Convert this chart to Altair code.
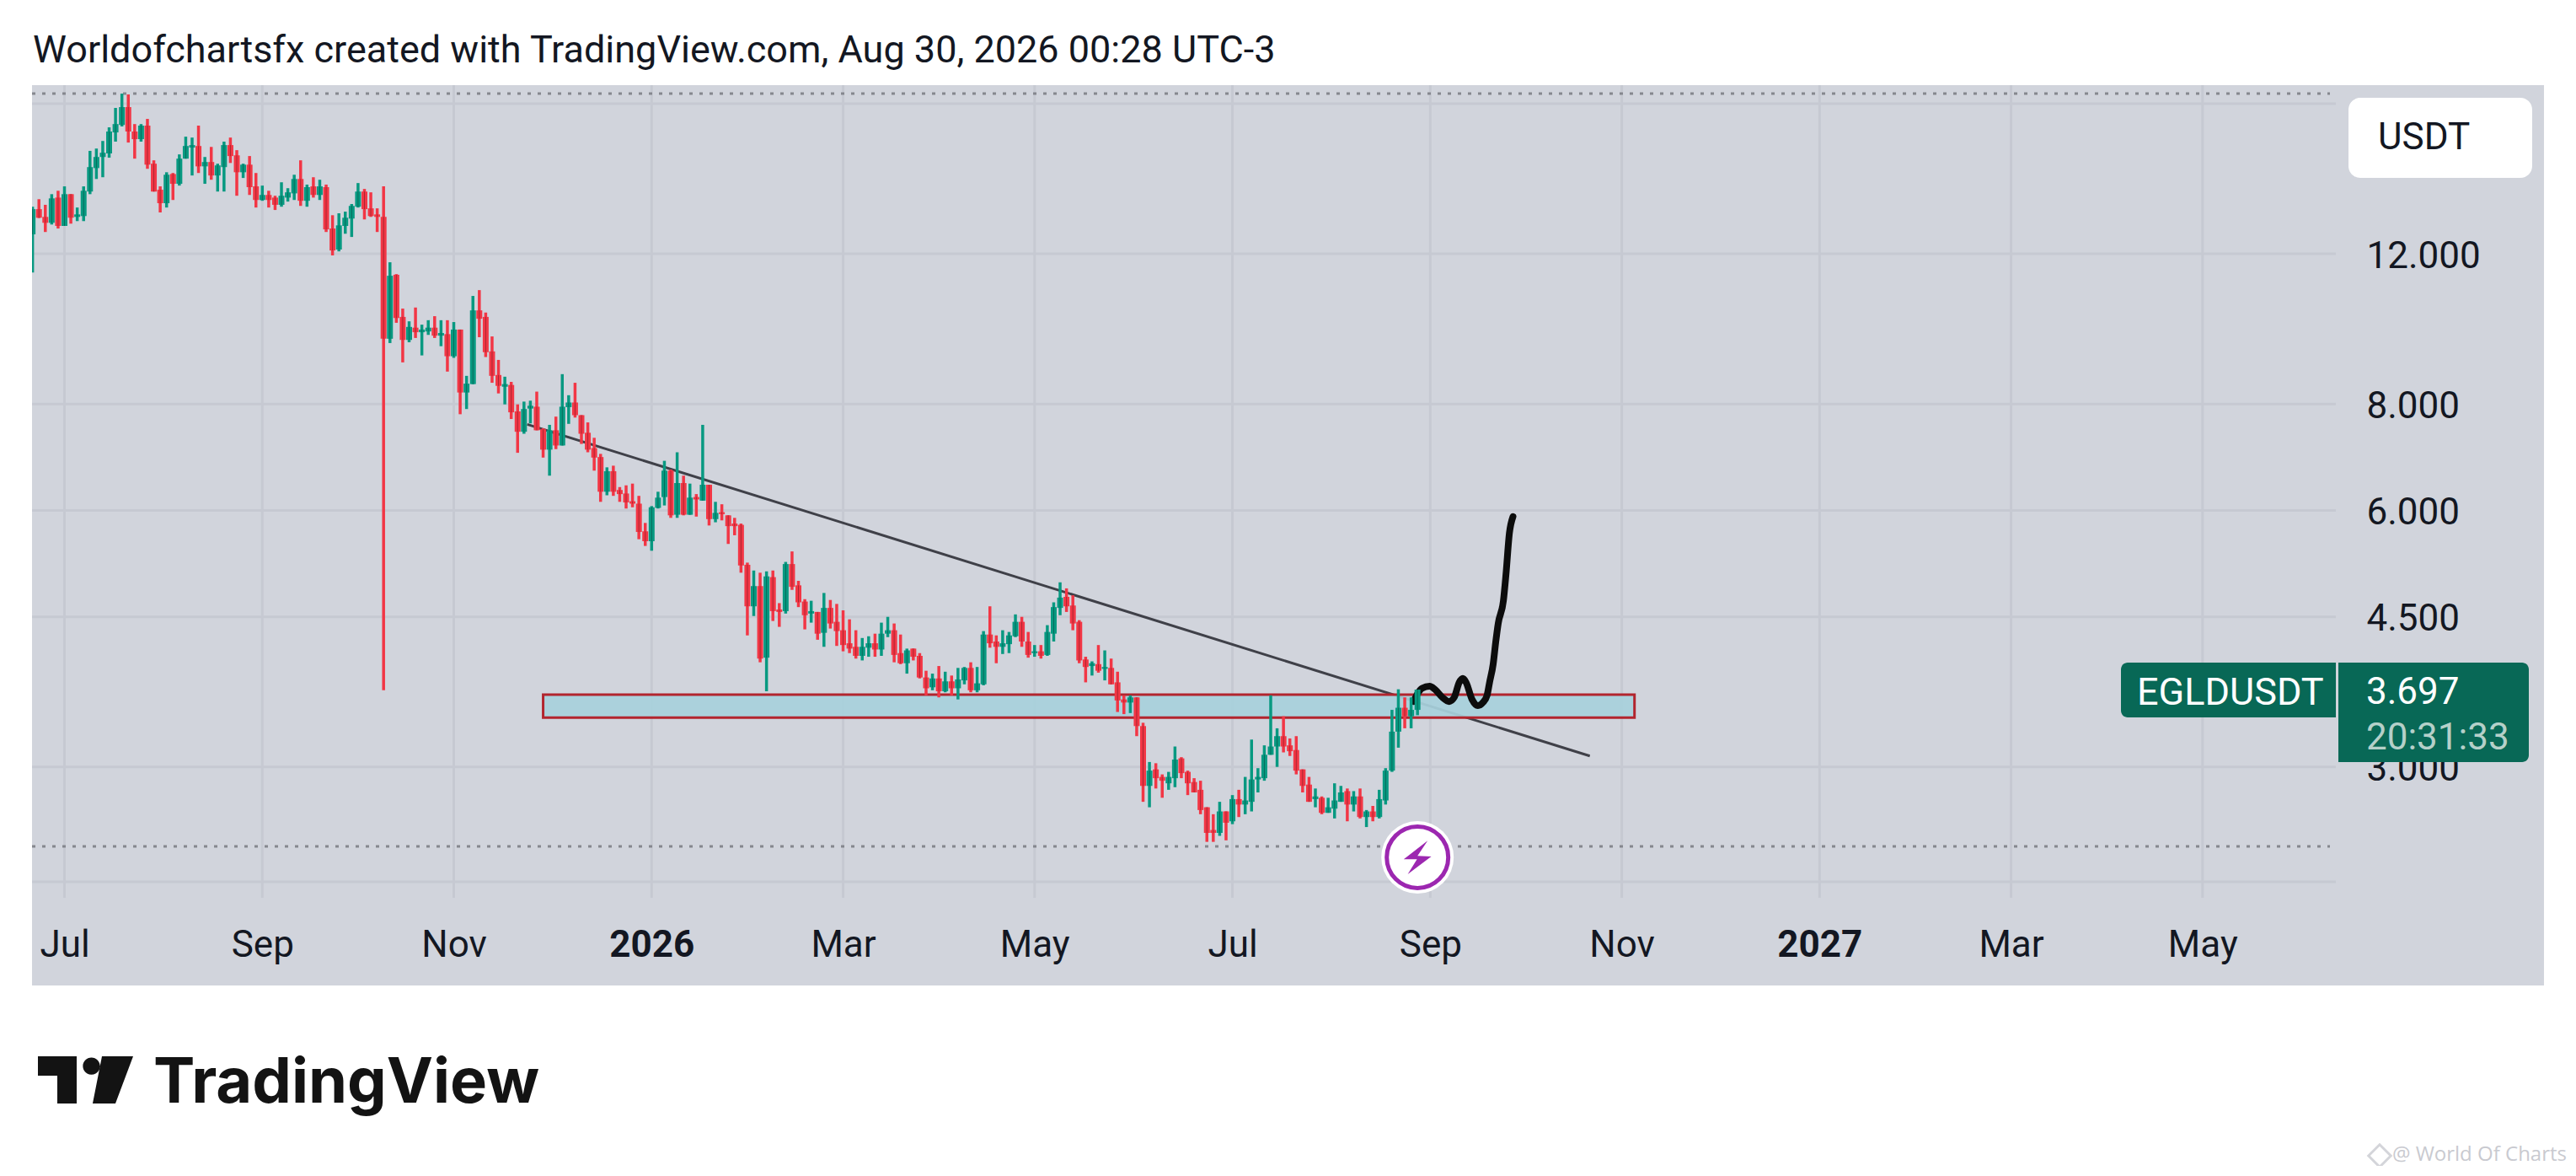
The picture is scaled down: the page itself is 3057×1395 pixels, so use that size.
import altair as alt
import pandas as pd

BG = "#d1d4dc"
GRID = "#c6c9d2"
UP = "#089981"
DOWN = "#f23645"
TEXT = "#131722"
TAG = "#086856"
FONT = "Roboto"

opens = [12.65,13.54,13.26,13.05,13.97,12.94,14.10,13.26,13.29,14.20,
15.13,15.59,15.74,16.66,17.00,17.84,16.70,16.36,16.97,15.31,
14.27,13.76,14.89,14.50,15.52,15.99,16.06,15.20,15.38,14.83,
15.17,16.10,15.66,14.96,15.27,14.40,13.88,14.07,13.97,13.70,
13.97,14.13,14.69,13.85,14.40,14.07,14.37,12.85,12.14,12.94,
13.20,13.63,14.20,13.57,13.35,13.26,9.54,11.34,10.12,9.51,
9.83,9.71,9.73,9.83,9.62,9.66,9.10,9.78,8.25,8.44,
10.30,10.12,9.22,8.65,8.38,8.42,7.84,7.42,7.90,7.94,
7.47,7.07,7.45,7.15,7.93,8.03,7.76,7.40,7.10,6.93,
6.31,6.67,6.34,6.28,6.15,6.11,5.67,5.52,6.04,6.22,
6.68,5.93,6.46,5.93,6.22,6.16,6.43,5.86,5.97,5.92,
5.79,5.77,5.18,4.63,4.89,4.03,5.01,4.59,4.57,5.19,
4.90,4.69,4.54,4.56,4.31,4.61,4.44,4.34,4.19,4.15,
4.05,4.14,4.19,4.12,4.30,4.34,4.08,3.97,4.13,4.05,
3.82,3.72,3.81,3.68,3.78,3.71,3.79,3.92,3.69,3.75,
4.29,4.21,4.15,4.18,4.27,4.44,4.21,4.08,4.10,4.06,
4.30,4.61,4.75,4.64,4.44,4.01,3.94,3.96,3.91,3.92,
3.77,3.60,3.57,3.62,3.35,2.85,2.98,2.92,2.87,2.91,
3.07,2.96,2.88,2.82,2.69,2.53,2.51,2.66,2.59,2.75,
2.71,2.73,2.90,2.91,3.10,3.17,3.26,3.18,3.14,2.98,
2.86,2.75,2.76,2.65,2.68,2.73,2.81,2.71,2.77,2.62,
2.66,2.62,2.74,2.97,3.30,3.52,3.44,3.50]

closes = [13.54,13.23,13.05,13.94,12.94,14.10,13.23,13.35,14.23,15.17,
15.59,15.77,16.70,17.04,17.84,16.70,16.36,16.97,15.27,14.20,
13.76,14.86,14.50,15.52,16.06,16.10,15.20,15.38,14.83,15.24,
16.10,15.63,14.96,15.27,14.37,13.88,14.07,13.88,13.70,14.04,
14.17,14.69,13.85,14.37,14.07,14.40,12.82,12.11,12.96,13.23,
13.66,14.20,13.54,13.29,13.26,9.54,11.31,10.09,9.51,9.85,
9.71,9.78,9.83,9.62,9.69,9.10,9.78,8.25,8.45,10.30,
10.07,9.20,8.63,8.40,8.44,7.82,7.42,7.89,7.96,7.45,
7.07,7.45,7.15,7.94,8.03,7.76,7.38,7.07,6.92,6.31,
6.67,6.31,6.27,6.13,6.11,5.66,5.52,6.05,6.21,6.68,
5.92,6.46,5.93,6.21,6.18,6.43,5.86,5.96,5.94,5.75,
5.75,5.17,4.63,4.89,4.02,5.02,4.57,4.56,5.19,4.88,
4.68,4.52,4.57,4.30,4.61,4.42,4.33,4.17,4.13,4.05,
4.15,4.19,4.12,4.30,4.34,4.06,3.97,4.11,4.04,3.82,
3.71,3.81,3.68,3.78,3.71,3.80,3.92,3.69,3.76,4.29,
4.19,4.15,4.19,4.28,4.44,4.21,4.06,4.10,4.05,4.32,
4.62,4.74,4.63,4.42,4.00,3.93,3.97,3.89,3.93,3.75,
3.59,3.57,3.62,3.35,2.85,2.97,2.91,2.89,2.92,3.06,
2.95,2.87,2.80,2.67,2.51,2.51,2.66,2.58,2.75,2.71,
2.74,2.90,2.92,3.10,3.17,3.26,3.17,3.13,2.97,2.85,
2.73,2.77,2.65,2.69,2.74,2.80,2.71,2.77,2.62,2.66,
2.62,2.75,2.97,3.30,3.52,3.44,3.50,3.697]

highs = [13.63,13.91,13.70,14.10,14.23,14.40,14.10,13.60,14.40,15.85,
15.95,16.28,16.89,17.80,18.50,18.46,17.04,17.04,17.28,15.45,
14.40,14.96,14.93,15.70,16.47,16.43,16.97,15.59,16.02,15.31,
16.25,16.43,15.88,15.31,15.63,14.93,14.43,14.23,14.04,14.56,
14.33,14.86,15.45,14.47,14.76,14.66,14.47,13.32,13.39,13.45,
13.73,14.53,14.30,14.17,13.57,14.40,11.73,11.36,10.35,10.00,
10.38,9.91,10.03,10.14,10.03,10.03,9.98,9.78,8.63,10.71,
10.88,10.24,9.60,9.01,8.61,8.49,7.99,8.05,8.07,8.27,
7.49,7.56,7.73,8.67,8.19,8.47,7.76,7.61,7.30,6.99,
6.74,6.77,6.39,6.42,6.45,6.24,5.80,6.07,6.31,6.86,
6.70,7.02,6.59,6.45,6.27,7.56,6.43,6.14,6.10,5.92,
5.88,5.79,5.21,5.10,5.07,5.09,5.10,4.67,5.22,5.37,
4.96,4.72,4.70,4.56,4.80,4.71,4.66,4.58,4.47,4.34,
4.25,4.27,4.30,4.43,4.50,4.42,4.29,4.13,4.13,4.08,
3.89,3.86,3.94,3.88,3.84,3.92,3.93,3.98,3.93,4.33,
4.63,4.28,4.34,4.32,4.53,4.50,4.32,4.17,4.17,4.40,
4.68,4.94,4.86,4.77,4.46,4.04,3.99,4.17,4.11,4.02,
3.88,3.64,3.64,3.62,3.38,3.04,3.03,2.94,2.96,3.17,
3.08,2.97,2.91,2.89,2.69,2.64,2.73,2.66,2.78,2.82,
2.92,3.23,2.99,3.18,3.64,3.33,3.44,3.24,3.26,2.98,
2.92,2.83,2.77,2.76,2.87,2.85,2.83,2.81,2.83,2.67,
2.70,2.82,2.99,3.50,3.70,3.62,3.62,3.697]

lows = [11.41,13.22,12.73,12.99,12.85,12.94,13.02,13.11,13.11,14.10,
14.69,14.76,15.56,16.25,16.93,16.21,15.52,16.25,15.10,14.20,
13.42,13.60,13.88,14.43,15.52,14.83,14.93,14.50,14.66,14.20,
14.20,15.34,14.04,14.73,14.07,13.60,13.85,13.60,13.51,13.63,
13.82,13.88,13.66,13.63,13.97,13.88,12.73,11.95,12.08,12.67,
12.56,13.60,13.17,13.26,12.73,3.69,9.43,9.96,8.95,9.45,
9.56,9.12,9.64,9.56,9.35,8.73,9.06,7.78,7.89,8.44,
9.58,9.08,8.47,8.23,7.99,7.68,7.01,7.38,7.59,7.45,
6.92,6.59,7.08,7.15,7.58,7.71,7.18,7.02,6.68,6.14,
6.25,6.24,6.14,6.03,6.05,5.55,5.45,5.38,6.03,6.08,
5.88,5.88,5.92,5.93,5.90,6.16,5.76,5.81,5.84,5.48,
5.61,5.07,4.28,4.51,3.98,3.68,4.45,4.38,4.54,4.84,
4.62,4.35,4.43,4.23,4.15,4.36,4.16,4.10,4.08,4.02,
4.00,4.04,4.04,4.05,4.26,3.98,3.96,3.86,4.00,3.81,
3.64,3.69,3.62,3.67,3.64,3.60,3.75,3.67,3.67,3.74,
4.14,3.97,4.07,4.08,4.26,4.15,4.03,4.04,4.02,4.05,
4.21,4.52,4.56,4.34,3.97,3.77,3.84,3.87,3.79,3.75,
3.48,3.46,3.47,3.26,2.73,2.69,2.83,2.76,2.82,2.84,
2.91,2.78,2.80,2.64,2.45,2.45,2.49,2.46,2.57,2.62,
2.64,2.66,2.80,2.89,3.10,3.00,3.12,3.09,2.94,2.80,
2.73,2.69,2.64,2.65,2.61,2.73,2.59,2.66,2.61,2.55,
2.59,2.61,2.71,2.96,3.16,3.33,3.33,3.45]

dates = pd.date_range("2025-06-21", periods=len(opens), freq="2D").strftime("%Y-%m-%d").tolist()

month_ticks = ["2025-07-01","2025-09-01","2025-10-31","2026-01-01","2026-03-02","2026-05-01",
               "2026-07-02","2026-09-02","2026-11-01","2027-01-02","2027-03-03","2027-05-02"]
price_ticks = [18, 12, 8, 6, 4.5, 3, 2.2]

trend_dates = ["2025-11-23", "2026-10-22"]
trend_prices = [7.57, 3.09]

zone_start, zone_end = "2025-11-28", "2026-11-05"
zone_top, zone_bottom = 3.646, 3.427

peak_price, trough_price = 18.5, 2.42

brush_dates = ["2026-08-27T19:00:00Z","2026-08-29T02:00:00Z","2026-08-30T10:00:00Z","2026-09-01T19:00:00Z",
"2026-09-03T10:00:00Z","2026-09-05T19:00:00Z","2026-09-07T22:00:00Z","2026-09-09T12:00:00Z",
"2026-09-11T02:00:00Z","2026-09-12T05:00:00Z","2026-09-13T05:00:00Z","2026-09-15T02:00:00Z",
"2026-09-16T22:00:00Z","2026-09-18T12:00:00Z","2026-09-19T19:00:00Z","2026-09-20T14:00:00Z",
"2026-09-21T17:00:00Z","2026-09-22T12:00:00Z","2026-09-23T07:00:00Z","2026-09-24T22:00:00Z",
"2026-09-25T17:00:00Z","2026-09-26T19:00:00Z","2026-09-27T22:00:00Z"]
brush_prices = [3.58,3.66,3.71,3.73,3.70,3.62,3.58,3.62,3.77,3.81,3.77,3.60,3.54,3.57,3.64,3.77,3.96,4.20,4.42,4.70,5.04,5.64,5.90]

alert_date, alert_price = "2026-08-29", 2.35

TITLE = "Worldofchartsfx created with TradingView.com, Aug 30, 2026 00:28 UTC-3"


def ms(s):
    return int(pd.Timestamp(s, tz="UTC").value // 10**6)


xscale = alt.Scale(type="utc", domain=[ms("2025-06-20T20:00:00"), ms("2027-08-17T00:00:00")], nice=False)
yscale = alt.Scale(type="log", domain=[1.662, 18.93], nice=False, zero=False)

PLOT_W, PLOT_H = 2981, 1068
PANE_W, PANE_H = 2734, 964

candles = pd.DataFrame({"date": dates, "open": opens, "high": highs, "low": lows, "close": closes})
candles["dir"] = ["up" if c >= o else "down" for o, c in zip(opens, closes)]
color = alt.Color("dir:N", scale=alt.Scale(domain=["up", "down"], range=[UP, DOWN]), legend=None)

xlab = "time(datum.value)+86400000"
xaxis = alt.Axis(
    values=[ms(d) for d in month_ticks], grid=False, domain=False, ticks=False, tickSize=0, title=None,
    labelExpr=f"utcmonth({xlab})==0 ? utcFormat({xlab},'%Y') : utcFormat({xlab},'%b')",
    labelFontWeight={"condition": {"test": f"utcmonth({xlab})==0", "value": "bold"}, "value": "normal"},
    labelFont=FONT, labelFontSize=44, labelColor=TEXT, labelPadding=-48, labelBaseline="middle",
    labelOverlap=False, labelBound=False, labelFlush=False, labelAngle=0)
yaxis = alt.Axis(
    orient="right", values=price_ticks, grid=False, domain=False, ticks=False, tickSize=0, title=None,
    labelExpr="datum.value==2.2||datum.value==18 ? '' : format(datum.value,'.3f')",
    labelFont=FONT, labelFontSize=44, labelColor=TEXT, labelPadding=-211, labelAlign="left", labelOffset=3,
    labelBaseline="middle", labelOverlap=False, labelBound=False, labelFlush=False)

X = lambda f: alt.X(f, scale=xscale, axis=xaxis)
Y = lambda f: alt.Y(f, scale=yscale, axis=yaxis)

vgrid = alt.Chart(pd.DataFrame({"date": month_ticks})).mark_rule(color=GRID, strokeWidth=3).encode(
    x=X("date:T"), y=alt.value(0), y2=alt.value(PANE_H))

hgrid = alt.Chart(pd.DataFrame({"p": price_ticks})).mark_rule(color=GRID, strokeWidth=3).encode(
    y=Y("p:Q"), x=alt.value(0), x2=alt.value(PANE_W))

dotted = alt.Chart(pd.DataFrame({"p": [peak_price, trough_price]})).mark_rule(
    color="#85878e", strokeWidth=3, strokeDash=[4, 8]).encode(y=Y("p:Q"), x=alt.value(0), x2=alt.value(2727))

trend = alt.Chart(pd.DataFrame({"date": trend_dates, "p": trend_prices})).mark_line(
    color="#3f4048", strokeWidth=3).encode(x=X("date:T"), y=Y("p:Q"))

zone = alt.Chart(pd.DataFrame({"a": [zone_start], "b": [zone_end], "t": [zone_top], "u": [zone_bottom]})).mark_rect(
    fill="#a8d1db", fillOpacity=0.93, stroke="#b2252e", strokeWidth=3).encode(
    x=X("a:T"), x2="b:T", y=Y("t:Q"), y2="u:Q")

brush = alt.Chart(pd.DataFrame({"date": brush_dates, "p": brush_prices})).mark_line(
    color="#0c0c0c", strokeWidth=8, interpolate="monotone", strokeCap="round", strokeJoin="round").encode(
    x=X("date:T"), y=Y("p:Q"))

wicks = alt.Chart(candles).mark_rule(strokeWidth=3.5, clip=True).encode(
    x=X("date:T"), y=Y("high:Q"), y2="low:Q", color=color)
bodies = alt.Chart(candles).mark_rule(strokeWidth=7, clip=True).encode(
    x=X("date:T"), y=Y("open:Q"), y2="close:Q", color=color)
cores = alt.Chart(candles).mark_rule(strokeWidth=1, clip=True, color="#000000", opacity=0.3).encode(
    x=X("date:T"), y=Y("open:Q"), y2="close:Q")

alert_df = pd.DataFrame({"date": [alert_date], "p": [alert_price]})
alert_halo = alt.Chart(alert_df).mark_point(shape="circle", filled=True, color="#ffffff", size=7396, opacity=1).encode(
    x=X("date:T"), y=Y("p:Q"))
alert_ring = alt.Chart(alert_df).mark_point(shape="circle", filled=False, stroke="#9c27b0", strokeWidth=5, size=5329, opacity=1).encode(
    x=X("date:T"), y=Y("p:Q"))
alert_bolt = alt.Chart(alert_df).mark_point(
    shape="M0.6,-0.98L-0.82,0.12L-0.03,0.12L-0.58,1L0.82,-0.05L0,-0.08Z",
    filled=True, color="#9c27b0", size=1600, opacity=1).encode(x=X("date:T"), y=Y("p:Q"))

one = pd.DataFrame({"n": [0]})


def box(x0, y0, x1, y1, fill, **kw):
    return alt.Chart(one).mark_rect(fill=fill, **kw).encode(
        x=alt.value(x0 - 38), x2=alt.value(x1 - 38), y=alt.value(y0 - 101), y2=alt.value(y1 - 101))


def label(txt, x, y, size=44, color=TEXT, font=FONT, weight="normal", align="left"):
    return alt.Chart(one).mark_text(text=txt, font=font, fontSize=size, color=color, fontWeight=weight,
                                    align=align, baseline="middle").encode(
        x=alt.value(x - 38), y=alt.value(y - 101))


usdt_box = box(2787, 116, 3005, 211, "#ffffff", cornerRadius=14)
usdt_text = label("USDT", 2822, 164)
sym_tag = box(2517, 786, 2772, 851, TAG, cornerRadiusTopLeft=8, cornerRadiusBottomLeft=8)
sym_text = label("EGLDUSDT", 2536, 822, size=45, color="#ffffff")
price_tag = box(2775, 786, 3001, 904, TAG, cornerRadiusTopRight=8, cornerRadiusBottomRight=8)
price_text = label("3.697", 2808, 822, color="#ffffff")
timer_text = label("20:31:33", 2808, 876, color="#b5d0c9")

title = label(TITLE, 39, 60, size=45, color="#131722")

logo_path = ("M-1,-0.504L-0.186,-0.504L-0.186,0.487L-0.593,0.487L-0.593,-0.097L-1,-0.097Z"
             "M0.345,-0.504L1,-0.504L0.628,0.487L0.15,0.487Z"
             "M-0.056,-0.3a0.18,0.18 0 1,0 0.36,0a0.18,0.18 0 1,0 -0.36,0Z")
logo = alt.Chart(one).mark_point(shape=logo_path, filled=True, color="#131313", size=12769, opacity=1).encode(
    x=alt.value(101.5 - 38), y=alt.value(1281.5 - 101))
logo_text = label("TradingView", 182, 1286, size=74, color="#131313", font="Inter", weight="bold")

wm_icon = alt.Chart(one).mark_point(shape="diamond", filled=False, stroke="#d4d5da", strokeWidth=3, size=700, opacity=1).encode(
    x=alt.value(2824 - 38), y=alt.value(1371 - 101))
wm_text = label("@ World Of Charts", 3046, 1370, size=24, color="#c9cad0", font="Open Sans", align="right")

chart = alt.layer(
    vgrid, hgrid, dotted, trend, zone, brush, wicks, bodies, cores,
    alert_halo, alert_ring, alert_bolt,
    usdt_box, usdt_text, sym_tag, sym_text, price_tag, price_text, timer_text,
    title, logo, logo_text, wm_icon, wm_text,
).properties(
    width=PLOT_W, height=PLOT_H,
    padding={"left": 30, "top": 93, "right": 30, "bottom": 214},
    autosize=alt.AutoSizeParams(type="none"),
    background="#ffffff",
).configure_view(fill=BG, stroke=None)

chart.save("out.html", embed_options={"renderer": "svg", "actions": False})
